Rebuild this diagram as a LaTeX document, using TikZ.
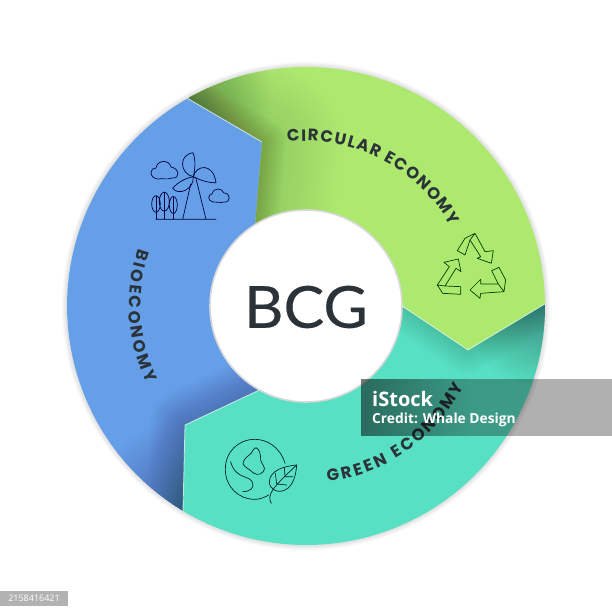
\documentclass[tikz,border=0pt]{standalone}
\usepackage{fontspec}
\newfontfamily\labelfont{Poppins}
\newfontfamily\titlefont[FakeBold=.35,FakeStretch=1.05]{Lato}
\newfontfamily\markfont{Open Sans}
\usetikzlibrary{decorations.text,fadings}
\definecolor{bioblue}{HTML}{659FE8}
\definecolor{circgreen}{HTML}{AEE96F}
\definecolor{greenteal}{HTML}{58E0C4}
\definecolor{inktext}{HTML}{2B3338}
\newcommand{\bluepath}{(119.7:239pt) -- (-44pt,164pt) -- (122:96pt) arc[start angle=122,end angle=241,radius=96pt] -- (-121pt,-119pt) -- (-123pt,-204.9pt) arc[start angle=239,end angle=119.7,radius=239pt] -- cycle}
\newcommand{\circpath}{(119.7:239pt) arc[start angle=119.7,end angle=.5,radius=239pt] -- (162pt,-44pt) -- (96pt,0pt) arc[start angle=0,end angle=122,radius=96pt] -- (-44pt,164pt) -- cycle}
\newcommand{\tealpath}{(.5:239pt) arc[start angle=.5,end angle=-121,radius=239pt] -- (-121pt,-119pt) -- (241:96pt) arc[start angle=241,end angle=360,radius=96pt] -- (162pt,-44pt) -- cycle}
\tikzset{
  icon/.style={draw=#1,line width=.7pt,line join=round,line cap=round},
  soft/.style={black,opacity=#1,line cap=round,line join=round},
  ringlabel/.style={decorate,decoration={text along path,text color=inktext,text align={fit to path},text={|\labelfont\bfseries\fontsize{16.5}{16.5}\selectfont|#1}}},
}
\begin{document}
\begin{tikzpicture}[x=1pt,y=1pt]
  \useasboundingbox (-306,-306) rectangle (306,306);
  \fill[white] (-306,-306) rectangle (306,306);
  \foreach \r in {244,243,242,241,240} \fill[black,opacity=.025] (0,0) circle (\r);

  % segments
  \fill[bioblue] \bluepath;
  \fill[circgreen] \circpath;
  \fill[greenteal] \tealpath;

  % shadows
  \begin{scope}
    \clip \circpath;
    \foreach \w in {3,6,...,84} \fill[soft=.009] (119.7:239pt) circle (\w);
    \foreach \w in {3,6,...,48} \draw[soft=.011,line width=\w] (119.7:239pt) -- (-44,164) -- (122:96pt);
    \foreach \w in {60,70,...,160} \draw[soft=.006,line width=\w] (119.7:239pt) -- (-44,164) -- (122:96pt);
  \end{scope}
  \begin{scope}
    \clip \tealpath;
    \foreach \w in {3,6,...,84} \fill[soft=.011] (.5:239pt) circle (\w);
    \foreach \w in {3,6,...,48} \draw[soft=.008,line width=\w] (.5:239pt) -- (162,-44) -- (96,0);
  \end{scope}
  \begin{scope}
    \clip \bluepath;
    \foreach \w in {3,6,...,90} \fill[soft=.009] (-123,-204.9) circle (\w);
    \foreach \w in {3,6,...,72} \draw[soft=.006,line width=\w] (241:96pt) -- (-121,-119) -- (-123,-204.9);
  \end{scope}
  \draw[white,opacity=.7,line width=.8] (119.7:239pt) -- (-44,164);
  \draw[white,opacity=.7,line width=.8] (.5:239pt) -- (162,-44) -- (96,0);
  \draw[white,opacity=.7,line width=.8] (241:96pt) -- (-121,-119) -- (-123,-204.9);

  % centre
  \node[circle,fill=white,draw=black!15,line width=1.6,minimum size=192,inner sep=0] (hub) at (0,0) {};
  \node[text=inktext,font=\titlefont\fontsize{58}{58}\selectfont] (title) at (0,-1) {BCG};

  % labels
  \path[ringlabel={CIRCULAR ECONOMY}] (96.5:165pt) arc[start angle=96.5,end angle=29,radius=165pt];
  \path[ringlabel={GREEN ECONOMY}] (-83:177pt) arc[start angle=-83,end angle=-27,radius=177pt];
  \path[ringlabel={BIOECONOMY}] (161:177pt) arc[start angle=161,end angle=206,radius=177pt];

  % icons, in pixels of the sheet
  \begin{scope}[shift={(-306,306)},yscale=-1]
    % windmill
    \begin{scope}[icon=black!75!blue]
      \draw (193.3,176.7) .. controls (180,174) and (178,155) .. (193,152.7) .. controls (196,160) and (195,170) .. (193.3,176.7);
      \draw (193.3,176.7) .. controls (196,165) and (213,162) .. (216,182.7) .. controls (208,183) and (200,180) .. (193.3,176.7);
      \draw (193.3,176.7) .. controls (194,190) and (178,196) .. (172.7,188.3) .. controls (178,182) and (186,178) .. (193.3,176.7);
      \draw (195.7,177.3) -- (206,219.3) (190.7,184) -- (182.7,219.3) (156,219.3) -- (216,219.3);
      \draw (158,179) .. controls (148,178) and (150,167) .. (156,168) .. controls (157,160) and (169,159) .. (171,167) .. controls (179,168) and (181,179) .. (172,178) .. controls (167,180) and (163,178) .. (158,179);
      \draw (213,202) .. controls (207,201) and (208,194) .. (212,194) .. controls (214,187) and (222,188) .. (224,193) .. controls (231,193) and (231,203) .. (224,202) .. controls (220,203) and (217,202) .. (213,202);
      \draw (156,204) ellipse (4.3 and 8.3) (164.3,201.7) ellipse (5 and 9.5) (173.3,205) ellipse (4 and 8.5);
      \draw (156,196) -- (156,219.3) (164.3,192) -- (164.3,219.3) (173.3,197) -- (173.3,219.3);
    \end{scope}
    % recycle
    \begin{scope}[icon=black!75!green,shift={(350,210)},scale=1/3]
      \draw (322,122) -- (345,85) -- (375,70) -- (405,125) -- (430,122) -- (424,160) -- (382,145) -- (392,140) -- (360,90) -- (345,135) -- cycle (375,70) -- (360,90);
      \draw (360,240) -- (392,208) -- (392,222) -- (445,222) -- (425,182) -- (447,172) -- (467,210) -- (462,245) -- (392,250) -- (390,265) -- cycle (445,222) -- (462,245);
      \draw (325,147) -- (282,157) -- (298,170) -- (262,225) -- (278,250) -- (332,253) -- (332,230) -- (285,228) -- (318,175) -- (333,185) -- cycle (262,225) -- (285,228);
    \end{scope}
    % globe and leaf
    \begin{scope}[icon=black!70!teal,shift={(170,380)},scale=1/3]
      \draw (345,250) .. controls (330,200) and (290,178) .. (255,178) .. controls (205,178) and (166,215) .. (166,268) .. controls (166,320) and (205,358) .. (255,358) .. controls (270,358) and (285,352) .. (296,345);
      \draw (258,203) .. controls (270,208) and (272,225) .. (272,240) .. controls (275,255) and (290,262) .. (280,275) .. controls (268,290) and (250,282) .. (240,270) .. controls (228,262) and (215,255) .. (220,245) .. controls (225,232) and (240,225) .. (245,218) .. controls (248,210) and (252,205) .. (258,203);
      \draw (182,245) .. controls (188,270) and (205,285) .. (222,290) .. controls (235,295) and (245,298) .. (248,310) .. controls (252,325) and (240,335) .. (218,335);
      \draw (380,255) .. controls (345,258) and (300,270) .. (298,305) .. controls (298,330) and (325,340) .. (345,330) .. controls (370,318) and (378,285) .. (380,255);
      \draw (304,370) .. controls (290,345) and (305,325) .. (380,255);
      \draw (345,290) -- (343,262) (345,290) -- (368,290) (320,312) -- (316,280) (320,312) -- (350,315);
    \end{scope}
    % stock marks
    \fill[black,opacity=.31] (361,379) rectangle (612,436);
    \fill[black,opacity=.3,path fading=east] (361,379) rectangle (470,436);
    \node[anchor=west,inner sep=0,text=white,font=\markfont\bfseries\fontsize{20}{20}\selectfont] (stock) at (372,399.5) {iStock};
    \node[anchor=west,inner sep=0,text=white,font=\markfont\bfseries\fontsize{13.8}{13.8}\selectfont] (credit) at (372,420) {Credit: Whale Design};
    \fill[black!30] (0,591) rectangle (68,606);
    \node[inner sep=0,text=white,font=\markfont\fontsize{9}{9}\selectfont] (imageno) at (34,598.5) {2158416421};
  \end{scope}
\end{tikzpicture}
\end{document}
